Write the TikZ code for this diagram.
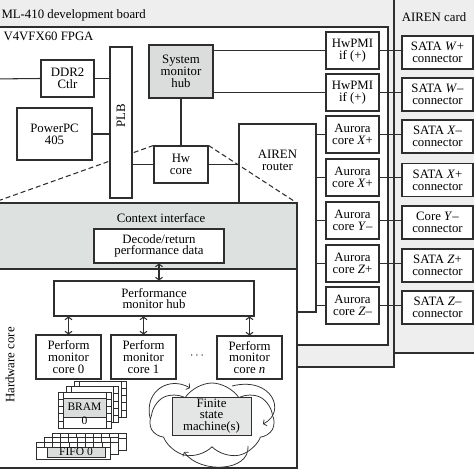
\documentclass[tikz,border=0pt]{standalone}
\usepackage{fontspec}
\setmainfont{Liberation Serif}
\usetikzlibrary{arrows.meta,shapes.symbols,calc}
\definecolor{boardgrey}{HTML}{EDEEED}
\definecolor{ctxgrey}{HTML}{DDE1E0}
\definecolor{boxgrey}{HTML}{DBDDDC}
\definecolor{fsmgrey}{HTML}{E4E6E5}
\definecolor{ln}{HTML}{2E2E2E}
\newcommand\fs{\fontsize{12.8}{11.8}\selectfont}
\newcommand\sfs{\fontsize{11.5}{11}\selectfont}
\newcommand\bramframe[4]{%
  \draw[fill=white,line width=0.6pt] (#1,#2) rectangle (#3,#4);
  \draw[line width=0.5pt] (#1+5,#2) -- (#1+5,#4) (#3-5,#2) -- (#3-5,#4);
  \foreach \k in {1,...,4}{\draw[line width=0.5pt] (#1,{#2+\k*(#4-#2)/5}) -- ++(5,0) (#3,{#2+\k*(#4-#2)/5}) -- ++(-5,0);}
}
\newcommand\fifoframe[4]{%
  \draw[fill=white,line width=0.6pt] (#1,#2) rectangle (#3,#4);
  \draw[line width=0.5pt] (#1,#2+5) -- (#3,#2+5);
  \foreach \k in {1,...,8}{\draw[line width=0.5pt] ({#1+\k*(#3-#1)/9},#2) -- ++(0,5);}
}
\tikzset{
  blk/.style={draw, fill=white, inner sep=0pt, align=center, font=\fs},
  gblk/.style={blk, fill=boxgrey},
  lbl/.style={inner sep=0pt, font=\fs},
  zoomline/.style={dash pattern=on 5pt off 3pt},
  dbl/.style={{Straight Barb[length=2.5pt,width=7pt]}-{Straight Barb[length=2.5pt,width=7pt]}},
  loop/.style={-{Straight Barb[length=2.5pt,width=7pt]}},
  lbox/.style={blk, minimum width=53pt, minimum height=37pt},
  sbox/.style={blk, minimum width=71pt, minimum height=33pt},
}
\begin{document}
\begin{tikzpicture}[x=1pt,y=-1pt,line width=1.05pt,draw=ln,text=black]
\clip (0,0) rectangle (474,474);
% board and card
\draw[fill=boardgrey] (-10,-10) rectangle (394,367);
\draw[fill=boardgrey] (394,-10) rectangle (484,353);
\node[lbl, anchor=west] (boardlbl) at (1,15) {ML-410 development board};
\node[lbl] (cardlbl) at (434,17) {AIREN card};
% FPGA
\draw[fill=white] (-10,27) rectangle (388,345);
\node[lbl, anchor=west] (fpgalbl) at (3,36) {V4VFX60 FPGA};
% FPGA blocks
\node[blk, minimum width=53pt, minimum height=37pt] (ddr) at (67.5,78.5) {DDR2\\Ctlr};
\node[blk, minimum width=75pt, minimum height=52pt] (ppc) at (54.5,134) {PowerPC\\405};
\node[gblk, minimum width=64pt, minimum height=53pt] (smh) at (181,71.5) {System\\monitor\\hub};
\node[blk, minimum width=77pt, minimum height=188pt] (router) at (277.5,218) {};
\node[lbl, align=center] (routerlbl) at (277.5,160) {AIREN\\router};
\node[blk, minimum width=54pt, minimum height=37pt] (hw) at (181,164.5) {Hw\\core};
% zoom lines
\coordinate (hcTL) at (-8,203);
\coordinate (hcTR) at (297,203);
\coordinate (hcBR) at (297,468);
\draw[zoomline] (hw.north west) -- (hcTL);
\draw[zoomline] (hw.north east) -- (hcTR);
\node[blk, minimum width=22pt, minimum height=151pt] (plb) at (121,122.5) {};
\node[lbl, rotate=90] (plblbl) at (121,116) {PLB};
% left column
\node[gblk, lbox] (pmi1) at (352.5,50.5) {HwPMI\\if (+)};
\node[gblk, lbox] (pmi2) at (352.5,92.5) {HwPMI\\if (+)};
\node[lbox] (ax1) at (352.5,134.5) {Aurora\\core \textit{X}+};
\node[lbox] (ax2) at (352.5,177.5) {Aurora\\core \textit{X}+};
\node[lbox] (ay) at (352.5,220.5) {Aurora\\core \textit{Y}–};
\node[lbox] (az1) at (352.5,263.5) {Aurora\\core \textit{Z}+};
\node[lbox] (az2) at (352.5,305.5) {Aurora\\core \textit{Z}–};
% SATA column
\node[sbox] (s1) at (437.5,52.5) {SATA \textit{W}+\\connector};
\node[sbox] (s2) at (437.5,94.5) {SATA \textit{W}–\\connector};
\node[sbox] (s3) at (437.5,136.5) {SATA \textit{X}–\\connector};
\node[sbox] (s4) at (437.5,180) {SATA \textit{X}+\\connector};
\node[sbox] (s5) at (437.5,222.5) {Core \textit{Y}–\\connector};
\node[sbox] (s6) at (437.5,265.5) {SATA \textit{Z}+\\connector};
\node[sbox] (s7) at (437.5,307.5) {SATA \textit{Z}–\\connector};
% connectors
\coordinate (ddrin) at (-10,79);
\draw (ddrin) -- (ddr.west);
\draw (ddr.east) -- (ddr.east -| plb.west);
\draw (ppc.east) -- (ppc.east -| plb.west);
\draw ($(smh.west)+(0,-6.5)$ -| plb.east) -- ($(smh.west)+(0,-6.5)$);
\draw (smh.south) -- (hw.north);
\draw (hw.west -| plb.east) -- (hw.west);
\draw (hw.east) -- (hw.east -| router.west);
\draw (pmi1.west -| smh.east) -- (pmi1.west);
\draw (pmi2.west -| smh.east) -- (pmi2.west);
\foreach \a in {ax1,ax2,ay,az1,az2}{\draw (\a.west -| router.east) -- (\a.west);}
\foreach \a/\b in {pmi1/s1,pmi2/s2,ax1/s3,ax2/s4,ay/s5,az1/s6,az2/s7}{\draw (\a.east) -- (\a.east -| \b.west);}
% hardware core
\draw[fill=white] (hcTL) rectangle (hcBR);
\draw[fill=ctxgrey] (hcTL) rectangle (297,269);
\node[lbl] (ctxlbl) at (161,218) {Context interface};
\node[blk, minimum width=130pt, minimum height=34pt] (dec) at (159,246) {Decode/return\\performance data};
\node[blk, minimum width=200pt, minimum height=35pt] (pmh) at (154,298.5) {Performance\\monitor hub};
\node[blk, minimum width=65pt, minimum height=44pt] (pmc0) at (68.5,357) {Perform\\monitor\\core 0};
\node[blk, minimum width=65pt, minimum height=44pt] (pmc1) at (143.5,357) {Perform\\monitor\\core 1};
\node[blk, minimum width=65pt, minimum height=43pt] (pmcn) at (249.5,357.5) {Perform\\monitor\\core \textit{n}};
\node[lbl] (dots) at (197,356) {$\cdots$};
\draw[dbl] (dec.south) -- (dec.south |- pmh.north);
\draw[dbl] (pmc0.north |- pmh.south) -- (pmc0.north);
\draw[dbl] (pmc1.north |- pmh.south) -- (pmc1.north);
\draw[dbl] (pmcn.north |- pmh.south) -- (pmcn.north);
\node[lbl, rotate=90] (hclbl) at (10,365) {Hardware core};
% BRAM stack
\bramframe{74}{381}{126}{417}
\bramframe{66}{386.5}{118}{422.5}
\bramframe{58}{392}{111}{428}
\draw[fill=boxgrey,line width=0.6pt] (63,398) rectangle (106,417);
\node[inner sep=0pt, font=\sfs] (bramlbl) at (84.5,407) {BRAM};
\node[inner sep=0pt, font=\sfs] (bram0) at (84.5,421) {0};
% FIFO stack
\fifoframe{52}{433}{126}{450}
\fifoframe{44}{437.5}{118}{454.5}
\fifoframe{36}{442}{110}{459}
\draw[fill=boxgrey,line width=0.6pt] (47,447) rectangle (105,457);
\node[inner sep=0pt, font=\sfs] (fifolbl) at (76,452) {FIFO 0};
% FSM cloud
\node[cloud, cloud puffs=7, cloud puff arc=115, aspect=1.6, draw, fill=white, minimum width=124pt, minimum height=76pt, line width=0.75pt] (cl) at (212,421) {};
\node[blk, fill=fsmgrey, minimum width=79pt, minimum height=38pt, font=\fontsize{12.8}{11.5}\selectfont, line width=0.75pt] (fsm) at (211.5,416) {Finite\\state\\machine(s)};
\draw[loop, line width=0.75pt] (150,418) .. controls (144,390) and (170,376) .. (190,388);
\draw[loop, line width=0.75pt] (232,386) .. controls (272,376) and (287,412) .. (263,424);
\draw[loop, line width=0.75pt] (248,446) .. controls (250,472) and (200,474) .. (184,452);
\end{tikzpicture}
\end{document}
